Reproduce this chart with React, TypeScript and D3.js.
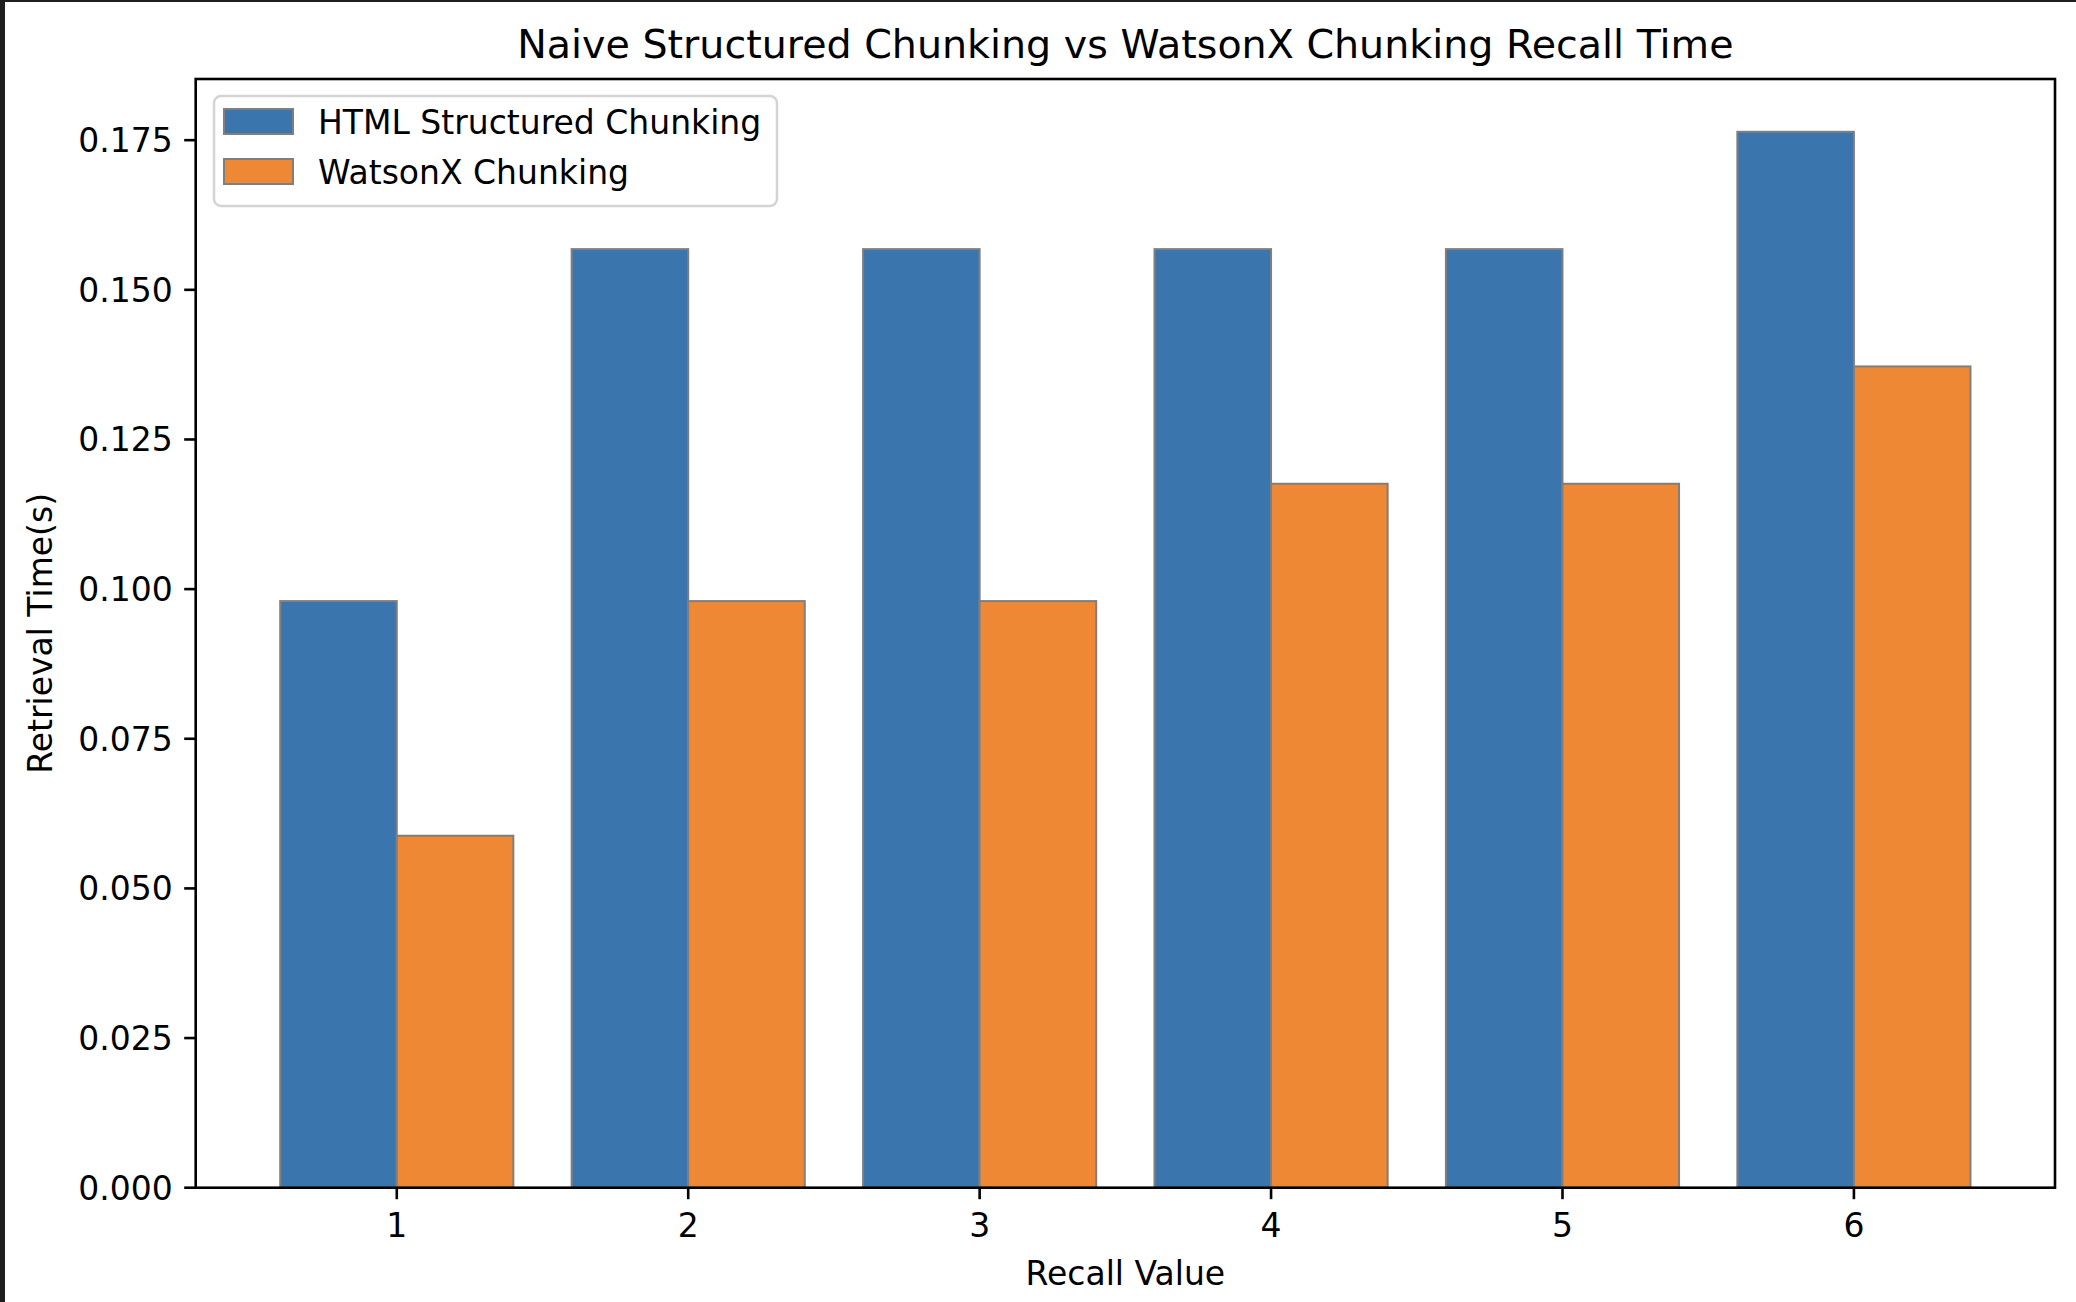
import { useEffect, useRef } from 'react';
import * as d3 from 'd3';

const recallValues = [1, 2, 3, 4, 5, 6];
const htmlTimes = [0.098, 0.1568, 0.1568, 0.1568, 0.1568, 0.1764];
const watsonxTimes = [0.0588, 0.098, 0.098, 0.1176, 0.1176, 0.1372];
const seriesNames = ['HTML Structured Chunking', 'WatsonX Chunking'];
const seriesColors = ['#3a75ae', '#ee8835'];
const yTicks = [0, 0.025, 0.05, 0.075, 0.1, 0.125, 0.15, 0.175];

const W = 2076;
const H = 1302;
const FONT = '"DejaVu Sans", sans-serif';

export default function App() {
  const svgRef = useRef<SVGSVGElement>(null);

  useEffect(() => {
    if (!svgRef.current) return;
    const svg = d3.select(svgRef.current);
    svg.selectAll('*').remove();

    const plot = { left: 195.7, right: 2055, top: 79, bottom: 1187.7 };
    const barW = 0.4;
    const tickLen = 11.5;

    // dark screenshot frame on left/top
    svg.append('rect').attr('x', 0).attr('y', 0).attr('width', W).attr('height', H).attr('fill', '#1e1e1e');
    svg.append('rect').attr('x', 5).attr('y', 2).attr('width', W - 5).attr('height', H - 2).attr('fill', '#ffffff');

    const lo = d3.min(recallValues)! - barW;
    const hi = d3.max(recallValues)! + barW;
    const pad = (hi - lo) * 0.05;
    const x = d3.scaleLinear().domain([lo - pad, hi + pad]).range([plot.left, plot.right]);
    const yMax = d3.max([...htmlTimes, ...watsonxTimes])! * 1.05;
    const y = d3.scaleLinear().domain([0, yMax]).range([plot.bottom, plot.top]);

    const g = svg.append('g');

    // bars
    const series = [htmlTimes, watsonxTimes];
    series.forEach((vals, si) => {
      g.selectAll(`.bar-${si}`)
        .data(vals)
        .join('rect')
        .attr('x', (_, i) => x(recallValues[i] - barW + si * barW))
        .attr('y', (d) => y(d))
        .attr('width', x(barW) - x(0))
        .attr('height', (d) => y(0) - y(d))
        .attr('fill', seriesColors[si])
        .attr('stroke', '#7f7f7f')
        .attr('stroke-width', 2);
    });

    // spines
    g.append('rect')
      .attr('x', plot.left)
      .attr('y', plot.top)
      .attr('width', plot.right - plot.left)
      .attr('height', plot.bottom - plot.top)
      .attr('fill', 'none')
      .attr('stroke', '#000')
      .attr('stroke-width', 2.6);

    // x ticks
    recallValues.forEach((v) => {
      g.append('line')
        .attr('x1', x(v)).attr('x2', x(v))
        .attr('y1', plot.bottom).attr('y2', plot.bottom + tickLen)
        .attr('stroke', '#000').attr('stroke-width', 2.6);
      g.append('text')
        .attr('x', x(v))
        .attr('y', 1237)
        .attr('text-anchor', 'middle')
        .attr('font-family', FONT)
        .attr('font-size', 33)
        .attr('fill', '#000')
        .text(String(v));
    });

    // y ticks
    yTicks.forEach((t) => {
      g.append('line')
        .attr('x1', plot.left - tickLen).attr('x2', plot.left)
        .attr('y1', y(t)).attr('y2', y(t))
        .attr('stroke', '#000').attr('stroke-width', 2.6);
      g.append('text')
        .attr('x', plot.left - tickLen - 11.5)
        .attr('y', y(t) + 12)
        .attr('text-anchor', 'end')
        .attr('font-family', FONT)
        .attr('font-size', 33)
        .attr('fill', '#000')
        .text(d3.format('.3f')(t));
    });

    // labels
    svg.append('text')
      .attr('x', (plot.left + plot.right) / 2)
      .attr('y', 58)
      .attr('text-anchor', 'middle')
      .attr('font-family', FONT)
      .attr('font-size', 39.6)
      .attr('fill', '#000')
      .text('Naive Structured Chunking vs WatsonX Chunking Recall Time');

    svg.append('text')
      .attr('x', (plot.left + plot.right) / 2)
      .attr('y', 1285)
      .attr('text-anchor', 'middle')
      .attr('font-family', FONT)
      .attr('font-size', 33)
      .attr('fill', '#000')
      .text('Recall Value');

    svg.append('text')
      .attr('transform', `translate(52,${(plot.top + plot.bottom) / 2}) rotate(-90)`)
      .attr('text-anchor', 'middle')
      .attr('font-family', FONT)
      .attr('font-size', 33)
      .attr('fill', '#000')
      .text('Retrieval Time(s)');

    // legend
    const legend = svg.append('g').attr('transform', 'translate(214,96)');
    legend.append('rect')
      .attr('width', 563)
      .attr('height', 110)
      .attr('rx', 7)
      .attr('fill', '#ffffff')
      .attr('fill-opacity', 0.8)
      .attr('stroke', '#d4d4d4')
      .attr('stroke-width', 2.5);
    seriesNames.forEach((name, i) => {
      legend.append('rect')
        .attr('x', 10)
        .attr('y', 13 + i * 50)
        .attr('width', 69)
        .attr('height', 25)
        .attr('fill', seriesColors[i])
        .attr('stroke', '#7f7f7f')
        .attr('stroke-width', 2);
      legend.append('text')
        .attr('x', 104)
        .attr('y', 38 + i * 50)
        .attr('font-family', FONT)
        .attr('font-size', 33)
        .attr('fill', '#000')
        .text(name);
    });
  }, []);

  return (
    <div style={{ position: 'absolute', left: 0, top: 0, width: W, height: H }}>
      <svg ref={svgRef} width={W} height={H} style={{ display: 'block' }} />
    </div>
  );
}
